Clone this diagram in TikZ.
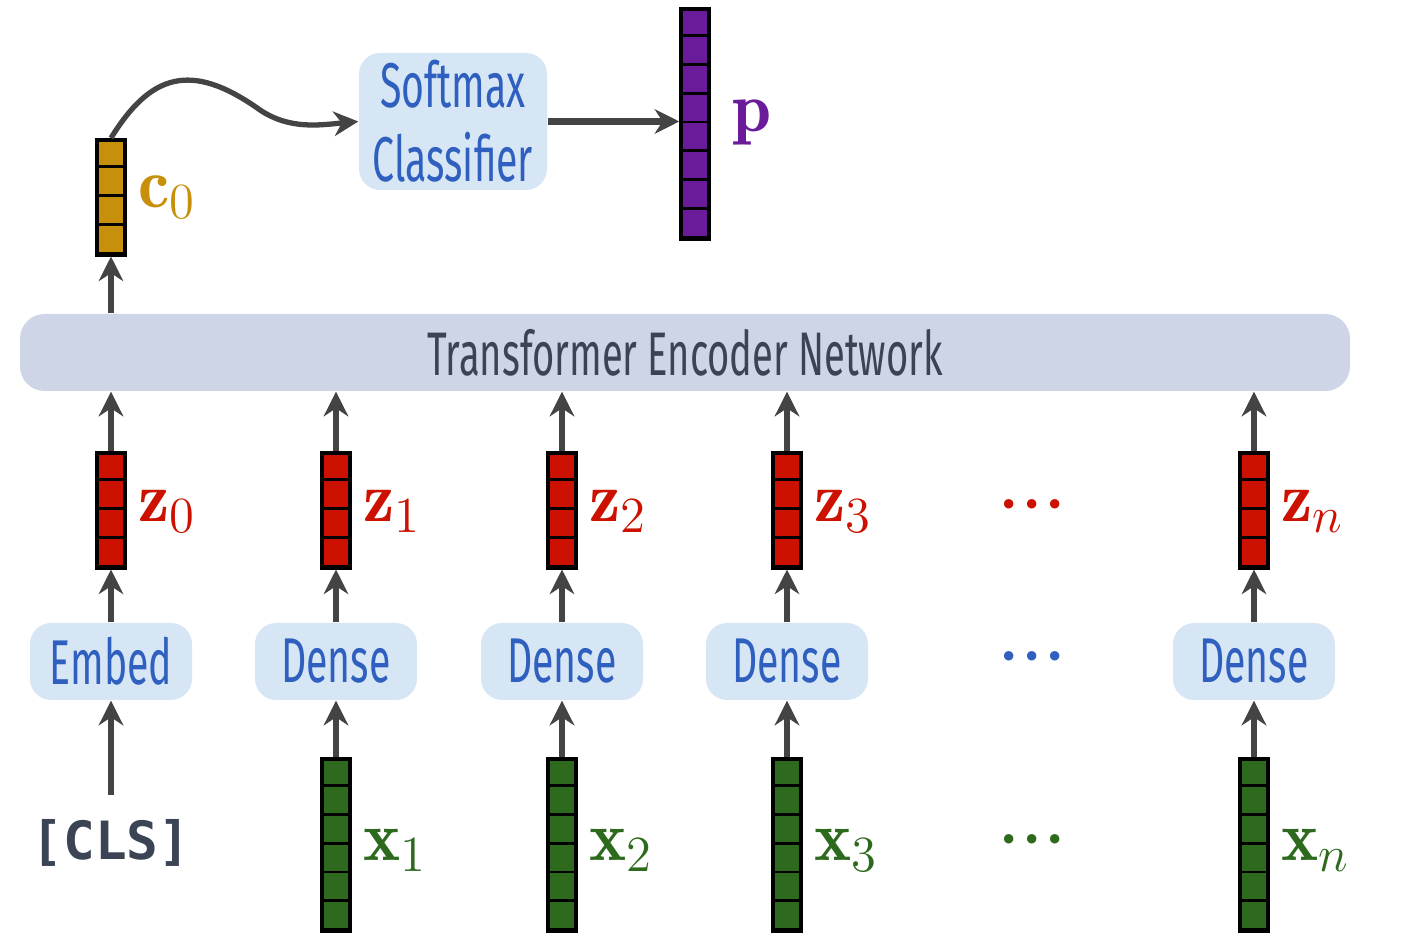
\documentclass[tikz,border=0pt]{standalone}
\usepackage{fontspec}
\usepackage{amsmath,bm}
\setsansfont[FakeStretch=0.62]{Fira Sans}
\setmonofont{DejaVu Sans Mono}
\usetikzlibrary{arrows.meta,calc}
\definecolor{cgold}{HTML}{C8900A}
\definecolor{cpurp}{HTML}{6A1B9A}
\definecolor{cred}{HTML}{CC1100}
\definecolor{cgreen}{HTML}{2D6A1E}
\definecolor{boxfill}{HTML}{D6E6F5}
\definecolor{boxtext}{HTML}{2F5FBF}
\definecolor{barfill}{HTML}{CDD5E6}
\definecolor{bartext}{HTML}{3A4455}
\definecolor{arr}{HTML}{444444}
% vector: name, x, y top, cells, colour
\newcommand{\vecbox}[5]{%
  \node[vec, fill=#5, minimum height=#4*0.2875cm, anchor=north] (#1) at (#2,#3) {};
  \foreach \k in {1,...,#4} {\draw[line width=0.8pt] ($(#1.north west)+(0,-\k*0.2875)$) -- ++(0.28,0);}
}
\begin{document}
\begin{tikzpicture}[x=1cm,y=1cm,
  vec/.style={draw, line width=1pt, minimum width=0.28cm, inner sep=0pt},
  blk/.style={fill=boxfill, rounded corners=6pt, minimum width=1.62cm, minimum height=0.77cm,
    font=\sffamily\fontsize{18}{18}\selectfont, text=boxtext, inner sep=0pt},
  up/.style={-{Stealth[length=7pt,width=7pt]}, line width=1.8pt, draw=arr},
  lab/.style={anchor=west, font=\fontsize{20}{20}\selectfont},
  dots/.style={font=\fontsize{18}{18}\selectfont}]
\useasboundingbox (0,0) rectangle (14.19,9.35);
% transformer bar
\node[fill=barfill, rounded corners=7pt, minimum width=13.3cm, minimum height=0.77cm,
  font=\sffamily\fontsize{17.5}{17.5}\selectfont, text=bartext] (enc) at (6.85,5.825) {Transformer Encoder Network};
% top
\vecbox{c0}{1.11}{7.97}{4}{cgold}
\node[lab, text=cgold] (lc0) at (1.26,7.38) {$\mathbf{c}_0$};
\node[blk, minimum width=1.88cm, minimum height=1.37cm, align=center, font=\sffamily\fontsize{18}{21}\selectfont] (soft) at (4.53,8.135) {Softmax\\Classifier};
\vecbox{p}{6.95}{9.28}{8}{cpurp}
\node[lab, text=cpurp] (lp) at (7.2,8.12) {$\mathbf{p}$};
\draw[up] (enc.north -| c0) -- (c0.south);
\draw[line width=1.5pt, draw=arr, -{Stealth[length=7pt,width=7pt]}] (c0.north) .. controls (1.5,8.6) and (1.9,8.75) .. (2.6,8.25) .. controls (2.9,8.05) and (3.2,8.1) .. (soft.west);
\draw[up] (soft.east) -- (p.west |- soft.east);
% columns
\foreach \i/\x/\b/\s in {0/1.11/Embed/0, 1/3.36/Dense/1, 2/5.62/Dense/2, 3/7.87/Dense/3, n/12.54/Dense/n} {
  \vecbox{z\i}{\x}{4.84}{4}{cred}
  \node[lab, text=cred] (lz\i) at (\x+0.15,4.24) {$\mathbf{z}_{\s}$};
  \node[blk] (b\i) at (\x,2.735) {\b};
  \draw[up] (b\i.north) -- (z\i.south);
  \draw[up] (z\i.north) -- (enc.south -| z\i);
}
\foreach \i/\x in {1/3.36, 2/5.62, 3/7.87, n/12.54} {
  \vecbox{x\i}{\x}{1.78}{6}{cgreen}
  \node[lab, text=cgreen] (lx\i) at (\x+0.15,0.85) {$\mathbf{x}_{\i}$};
  \draw[up] (x\i.north) -- (b\i.south);
}
\node[font=\ttfamily\bfseries\fontsize{15}{15}\selectfont, text=bartext] (cls) at (1.11,0.92) {[CLS]};
\coordinate (clstop) at (1.11,1.4);
\draw[up] (clstop) -- (b0.south);
\node[text=cred, dots] (d1) at (10.32,4.30) {$\bm{\cdot}\!\bm{\cdot}\!\bm{\cdot}$};
\node[text=boxtext, dots] (d2) at (10.32,2.78) {$\bm{\cdot}\!\bm{\cdot}\!\bm{\cdot}$};
\node[text=cgreen, dots] (d3) at (10.32,0.95) {$\bm{\cdot}\!\bm{\cdot}\!\bm{\cdot}$};
\end{tikzpicture}
\end{document}
